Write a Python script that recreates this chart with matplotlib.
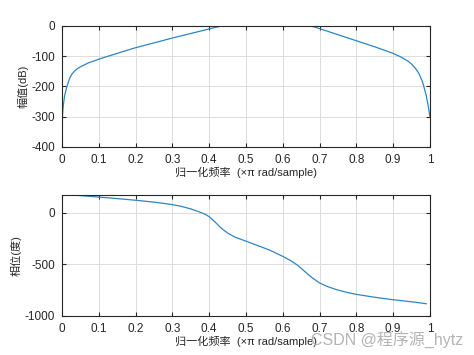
import matplotlib
matplotlib.use("Agg")
import matplotlib.pyplot as plt

plt.rcParams['font.family'] = ['Liberation Sans', 'Noto Sans CJK SC', 'DejaVu Sans']
plt.rcParams['axes.unicode_minus'] = False

# magnitude response (dB)
mag_freq = [0, 0.0005, 0.001, 0.002, 0.004, 0.007, 0.013, 0.02, 0.026, 0.035,
            0.044, 0.055, 0.072, 0.1, 0.12, 0.144, 0.17, 0.2, 0.25, 0.3, 0.35,
            0.4, 0.42, 0.435, 0.5, 0.6, 0.672, 0.685, 0.7, 0.75, 0.8, 0.85,
            0.88, 0.9, 0.92, 0.94, 0.95, 0.96, 0.97, 0.98, 0.99, 0.995, 1.0]
mag_db = [-400, -340, -300, -280, -256, -230, -200, -175, -160, -148,
          -139, -132, -122, -110, -102, -93, -83, -72, -56, -40, -25,
          -10, -4, 0, 0, 0, 0, -3, -9, -29, -49, -69,
          -82, -91, -102, -116, -126, -139, -157, -185, -230, -262, -300]

# phase response (degrees)
ph_freq = [0, 0.05, 0.1, 0.15, 0.2, 0.25, 0.28, 0.3, 0.321, 0.35, 0.375, 0.39,
           0.4, 0.41, 0.42, 0.43, 0.438, 0.45, 0.47, 0.5, 0.53, 0.565, 0.6,
           0.62, 0.637, 0.65, 0.665, 0.68, 0.7, 0.72, 0.746, 0.77, 0.8, 0.85,
           0.891, 0.93, 0.96, 0.99]
ph_deg = [178, 165, 151, 136, 120, 102, 88, 77, 63, 36, 4, -18,
          -40, -72, -106, -142, -166, -198, -238, -277, -318, -365, -425,
          -463, -503, -541, -588, -633, -683, -716, -748, -771, -794, -822,
          -842, -858, -870, -885]

xticks = [0, 0.1, 0.2, 0.3, 0.4, 0.5, 0.6, 0.7, 0.8, 0.9, 1]
xticklabels = ["0", "0.1", "0.2", "0.3", "0.4", "0.5", "0.6", "0.7", "0.8", "0.9", "1"]
xlabel = "归一化频率  (×π rad/sample)"

line_color = "#2f85c0"

fig = plt.figure(figsize=(4.74, 3.55), dpi=100)
ax1 = fig.add_axes([0.131, 0.586, 0.776, 0.341])
ax2 = fig.add_axes([0.131, 0.111, 0.776, 0.340])


def style(ax):
    ax.set_xlim(0, 1)
    ax.set_xticks(xticks)
    ax.set_xticklabels(xticklabels)
    ax.grid(True, color="#dcdcdc", linewidth=0.7)
    ax.set_axisbelow(True)
    ax.tick_params(direction="in", top=True, right=True, length=3,
                   labelsize=8.5, colors="#262626", pad=5)
    for s in ax.spines.values():
        s.set_color("#262626")
        s.set_linewidth(0.8)
    ax.set_xlabel(xlabel, fontsize=8, color="#262626", labelpad=1)


ax1.plot(mag_freq, mag_db, color=line_color, linewidth=0.9)
style(ax1)
ax1.set_ylim(-400, 0)
ax1.set_yticks([-400, -300, -200, -100, 0])
ax1.set_ylabel("幅值(dB)", fontsize=8, color="#262626", labelpad=2)

ax2.plot(ph_freq, ph_deg, color=line_color, linewidth=0.9)
style(ax2)
ax2.set_ylim(-1000, 172)
ax2.set_yticks([-1000, -500, 0])
ax2.set_ylabel("相位(度)", fontsize=8, color="#262626", labelpad=2)

fig.text(0.657, 0.042, "CSDN @程序源_hytz", fontsize=11.5, color="#b4b4b4",
         va="center")

fig.savefig("out.png", dpi=100)
